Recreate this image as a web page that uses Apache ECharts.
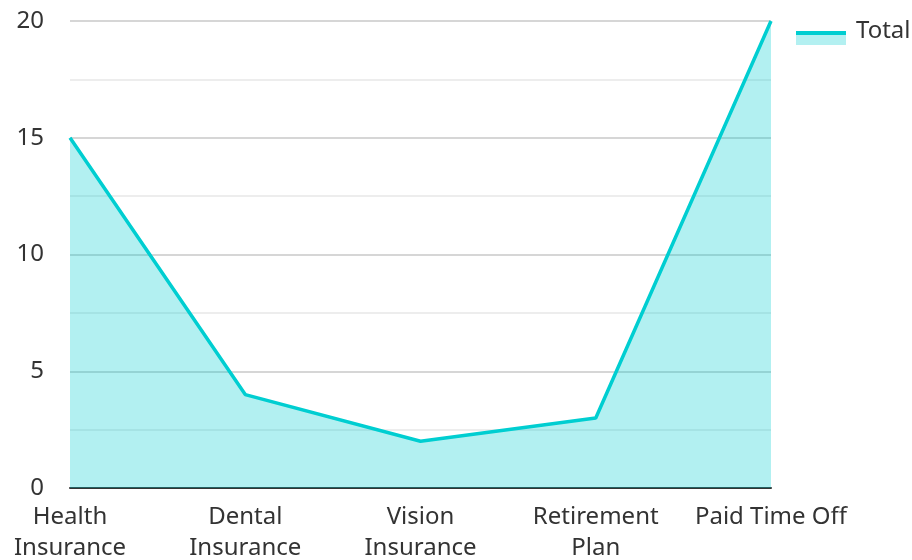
<!DOCTYPE html>
<html><head><meta charset="utf-8">
<script src="https://cdn.jsdelivr.net/npm/echarts@6/dist/echarts.min.js"></script>
<style>html,body{margin:0;padding:0;background:#fff}#c{width:912px;height:560px}</style>
</head><body><div id="c"></div>
<script>
var categories = ['Health\nInsurance', 'Dental\nInsurance', 'Vision\nInsurance', 'Retirement\nPlan', 'Paid Time Off'];
var totalValues = [15, 4, 2, 3, 20];
var yTicks = {min: 0, max: 20, interval: 5};
var chart = echarts.init(document.getElementById('c'), null, {renderer: 'canvas'});
var font = '"Noto Sans", "Open Sans", sans-serif';
chart.setOption({
  animation: false,
  textStyle: {fontFamily: font},
  legend: {
    left: 796, top: 17, padding: 0, itemWidth: 50, itemHeight: 28, itemGap: 10,
    icon: 'rect',
    textStyle: {fontSize: 24, color: '#333', fontFamily: font, padding: [0, 0, 0, 5]},
    data: [{name: 'Total', itemStyle: {color: new echarts.graphic.LinearGradient(0, 0, 0, 1, [
      {offset: 0, color: 'rgba(255,255,255,0)'}, {offset: 0.5, color: 'rgba(255,255,255,0)'},
      {offset: 0.5, color: '#00CED1'}, {offset: 0.64, color: '#00CED1'},
      {offset: 0.64, color: '#b3f0f1'}, {offset: 1, color: '#b3f0f1'}])}}]
  },
  grid: {left: 70, right: 141, top: 21, bottom: 72, containLabel: false, outerBoundsMode: 'none'},
  xAxis: {
    type: 'category', data: categories, boundaryGap: false,
    axisLine: {lineStyle: {color: '#333', width: 2}},
    axisTick: {show: false},
    axisLabel: {fontSize: 24, color: '#333', lineHeight: 31, margin: 14, fontFamily: font, interval: 0}
  },
  yAxis: {
    type: 'value', min: yTicks.min, max: yTicks.max, interval: yTicks.interval,
    axisLine: {show: false}, axisTick: {show: false},
    axisLabel: {fontSize: 24, color: '#333', margin: 26, fontFamily: font},
    splitLine: {lineStyle: {color: '#c8c8c8', width: 1.5}},
    minorTick: {show: false, splitNumber: 2},
    minorSplitLine: {show: true, lineStyle: {color: '#e8e8e8', width: 1.5}}
  },
  series: [{
    name: 'Total', type: 'line', data: totalValues,
    showSymbol: false, symbol: 'none',
    lineStyle: {color: '#00CED1', width: 3.5},
    itemStyle: {color: '#00CED1'},
    areaStyle: {color: '#00CED1', opacity: 0.3}
  }]
});
</script></body></html>
